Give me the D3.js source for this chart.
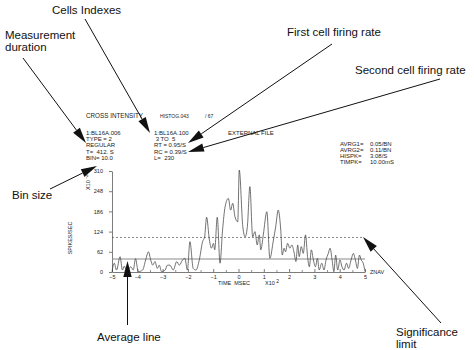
<!DOCTYPE html>
<html>
<head>
<meta charset="utf-8">
<script src="https://cdn.jsdelivr.net/npm/d3@7"></script>
<style>
  body { margin: 0; background: #fff; }
  svg { display: block; }
  text { white-space: pre; }
</style>
</head>
<body>
<svg id="histogram" width="474" height="350"></svg>
<script>
//Cross intensity histogram, time in units of 100 ms, rate in spikes/sec x10^-2
const timeBins = [-5.00, -4.91, -4.82, -4.68, -4.59, -4.51, -4.42, -4.26, -4.16, -4.07,
    -3.96, -3.79, -3.67, -3.56, -3.47, -3.39, -3.30, -3.21, -3.13, -3.04,
    -2.90, -2.81, -2.71, -2.58, -2.44, -2.34, -2.21, -2.12, -2.02, -1.92,
    -1.79, -1.68, -1.55, -1.42, -1.34, -1.26, -1.15, -1.07, -0.99, -0.94,
    -0.84, -0.73, -0.63, -0.53, -0.40, -0.31, -0.23, -0.14, -0.03, 0.03,
    0.17, 0.26, 0.35, 0.45, 0.56, 0.65, 0.74, 0.82, 0.88, 0.98,
    1.12, 1.24, 1.38, 1.47, 1.57, 1.67, 1.73, 1.80, 1.86, 1.94,
    2.03, 2.11, 2.19, 2.27, 2.34, 2.40, 2.48, 2.56, 2.65, 2.73,
    2.80, 2.88, 2.96, 3.04, 3.12, 3.19, 3.29, 3.38, 3.46, 3.55,
    3.62, 3.70, 3.77, 3.84, 3.92, 4.01, 4.09, 4.17, 4.27, 4.35,
    4.45, 4.54, 4.62, 4.70, 4.78, 4.85, 4.93, 5.00];
const spikeRates = [1, 27, 6, 47, 6, 18, 3, 16, 6, 41,
    1, 6, 37, 62, 37, 21, 32, 11, 21, 1,
    6, 21, 21, 6, 32, 21, 37, 42, 6, 93,
    11, 6, 37, 93, 108, 168, 98, 73, 88, 68,
    168, 27, 129, 200, 226, 190, 211, 170, 154, 313,
    139, 108, 139, 262, 108, 124, 83, 114, 68, 114,
    185, 42, 98, 139, 190, 129, 52, 73, 62, 88,
    73, 83, 62, 32, 83, 47, 78, 57, 114, 47,
    16, 68, 37, 16, 42, 6, 27, 6, 37, 57,
    73, 37, 1, 52, 6, 37, 16, 6, 27, 11,
    37, 57, 37, 11, 52, 37, 27, 1];

const averageRate = 40;
const significanceRate = 106;
const yTicks = [0, 62, 124, 186, 248, 310];
const xTicks = [-5, -4, -3, -2, -1, 0, 1, 2, 3, 4, 5];

//Header text blocks
const titleParts = ["CROSS INTENSITY", "HISTOG.043", "/ 67"];
const firstCellInfo = ["1:BL16A.006", "TYPE = 2", "REGULAR", "T=  412. S", "BIN= 10.0"];
const secondCellInfo = ["1:BL16A.100", " 3 TO  5", "RT = 0.95/S", "RC = 0.39/S", "L=  230"];
const statNames = ["AVRG1=", "AVRG2=", "HISPK=", "TIMPK="];
const statValues = ["0.05/BN", "0.11/BN", "3.08/S", "10.00mS"];

//Callouts around the plot
const callouts = [
    {text: ["Cells Indexes"], x: 52, y: 14, from: [85, 19], to: [150, 133]},
    {text: ["Measurement", "duration"], x: 5, y: 39, from: [23, 58], to: [86, 143]},
    {text: ["First cell firing rate"], x: 287, y: 36, from: [332, 44], to: [188, 143]},
    {text: ["Second cell firing rate"], x: 355, y: 74, from: [440, 79], to: [188, 152]},
    {text: ["Bin size"], x: 12, y: 199, from: [50, 189], to: [97, 166]},
    {text: ["Average line"], x: 97, y: 341, from: [127.5, 325], to: [127.5, 261]},
    {text: ["Significance", "limit"], x: 396, y: 336, from: [441, 323], to: [363, 237]}
];

const chartFont = "'Liberation Sans', Arial, sans-serif";
const svg = d3.select("#histogram");

var x = d3.scaleLinear().domain([-5, 5]).range([112, 365]);
var y = d3.scaleLinear().domain([0, 310]).range([272, 171]);

//Y axis
const yAxis = svg.append("g")
    .attr("transform", "translate(" + x(-5) + ",0)")
    .call(d3.axisLeft(y).tickValues(yTicks).tickSize(3).tickSizeOuter(0).tickPadding(6));
yAxis.selectAll("text").attr("font-size", 5.5).attr("font-family", chartFont).attr("fill", "#222");
yAxis.selectAll("line, path").attr("stroke", "#444").attr("stroke-width", 0.7);

//X axis, ticks point up into the plot
const xAxis = svg.append("g")
    .attr("transform", "translate(0," + y(0) + ")")
    .call(d3.axisBottom(x).tickValues(xTicks).tickSize(-3).tickSizeOuter(0).tickPadding(3));
xAxis.selectAll("text").attr("font-size", 5.5).attr("font-family", chartFont).attr("fill", "#222");
xAxis.selectAll("line, path").attr("stroke", "#444").attr("stroke-width", 0.7);

//Minor ticks
svg.append("g")
    .attr("transform", "translate(0," + y(0) + ")")
    .call(d3.axisBottom(x).tickValues(d3.range(-4.5, 5, 1)).tickSize(-2).tickFormat("").tickSizeOuter(0))
    .call(g => g.select(".domain").remove())
    .selectAll("line").attr("stroke", "#444").attr("stroke-width", 0.6);

//Significance limit (dashed) and average line
svg.append("line")
    .attr("x1", x(-5)).attr("x2", x(4.95))
    .attr("y1", y(significanceRate)).attr("y2", y(significanceRate))
    .attr("stroke", "#555").attr("stroke-width", 0.7).attr("stroke-dasharray", "2,2");

svg.append("line")
    .attr("x1", x(-5)).attr("x2", x(5))
    .attr("y1", y(averageRate)).attr("y2", y(averageRate))
    .attr("stroke", "#8a8a8a").attr("stroke-width", 1.1);

//Histogram curve
const points = timeBins.map((t, i) => ({t: t, v: spikeRates[i]}));
svg.append("path")
    .datum(points)
    .attr("fill", "none")
    .attr("stroke", "#444")
    .attr("stroke-width", 0.75)
    .attr("d", d3.line()
        .x(d => x(d.t))
        .y(d => y(d.v))
        .curve(d3.curveMonotoneX));

//Axis titles
svg.append("text")
    .attr("transform", "translate(72,238) rotate(-90)")
    .attr("text-anchor", "middle")
    .attr("font-size", 5.5).attr("font-family", chartFont).attr("fill", "#222")
    .text("SPIKES/SEC");

const yUnit = svg.append("text")
    .attr("transform", "translate(90,190) rotate(-90)")
    .attr("font-size", 5.5).attr("font-family", chartFont).attr("fill", "#222");
yUnit.append("tspan").text("X10 ");
yUnit.append("tspan").attr("dy", -2).attr("font-size", 5).text("-2");

const xTitle = svg.append("text")
    .attr("x", 218).attr("y", 285)
    .attr("font-size", 5.5).attr("font-family", chartFont).attr("fill", "#222");
xTitle.append("tspan").text("TIME  MSEC");
xTitle.append("tspan").attr("x", 265).text("X10");
xTitle.append("tspan").attr("dx", 1.5).attr("dy", -2.5).attr("font-size", 5).text("2");

svg.append("text")
    .attr("x", 370).attr("y", 274)
    .attr("font-size", 5.5).attr("font-family", chartFont).attr("fill", "#222")
    .text("ZNAV");

//Header
const header = svg.append("g").attr("font-family", chartFont).attr("fill", "#222");
header.append("text").attr("x", 86).attr("y", 118).attr("font-size", 6.3).text(titleParts[0]);
header.append("text").attr("x", 160).attr("y", 118).attr("font-size", 5).text(titleParts[1]);
header.append("text").attr("x", 205).attr("y", 118).attr("font-size", 5).text(titleParts[2]);

const infoBaselines = [135, 141, 147, 153.5, 160];
header.selectAll(".first-info")
    .data(firstCellInfo)
    .enter().append("text")
    .attr("x", 86)
    .attr("y", (d, i) => infoBaselines[i])
    .attr("font-size", 6)
    .text(d => d);

header.selectAll(".second-info")
    .data(secondCellInfo)
    .enter().append("text")
    .attr("x", 154)
    .attr("y", (d, i) => infoBaselines[i])
    .attr("font-size", 6)
    .text(d => d);

header.append("text").attr("x", 228).attr("y", 135).attr("font-size", 6).text("EXTERNAL FILE");

const statBaselines = [146, 152, 158, 164.3];
header.selectAll(".stat-name")
    .data(statNames)
    .enter().append("text")
    .attr("x", 340)
    .attr("y", (d, i) => statBaselines[i])
    .attr("font-size", 6)
    .text(d => d);
header.selectAll(".stat-value")
    .data(statValues)
    .enter().append("text")
    .attr("x", 370)
    .attr("y", (d, i) => statBaselines[i])
    .attr("font-size", 6)
    .text(d => d);

//Callout arrows with filled heads
function drawArrow(from, to) {
    const dx = to[0] - from[0], dy = to[1] - from[1];
    const len = Math.sqrt(dx * dx + dy * dy);
    const ux = dx / len, uy = dy / len;
    const headLen = 16, headHalf = 4.2;
    const bx = to[0] - ux * headLen, by = to[1] - uy * headLen;
    svg.append("line")
        .attr("x1", from[0]).attr("y1", from[1])
        .attr("x2", bx).attr("y2", by)
        .attr("stroke", "#111").attr("stroke-width", 1);
    svg.append("path")
        .attr("d", "M" + to[0] + "," + to[1] +
            "L" + (bx - uy * headHalf) + "," + (by + ux * headHalf) +
            "L" + (bx + uy * headHalf) + "," + (by - ux * headHalf) + "Z")
        .attr("fill", "#111");
}

callouts.forEach(function(c) {
    drawArrow(c.from, c.to);
    svg.append("text")
        .attr("font-family", chartFont)
        .attr("font-size", 11.5)
        .attr("fill", "#111")
        .selectAll("tspan")
        .data(c.text)
        .enter().append("tspan")
        .attr("x", c.x)
        .attr("y", (d, i) => c.y + i * 11.5)
        .text(d => d);
});
</script>
</body>
</html>
